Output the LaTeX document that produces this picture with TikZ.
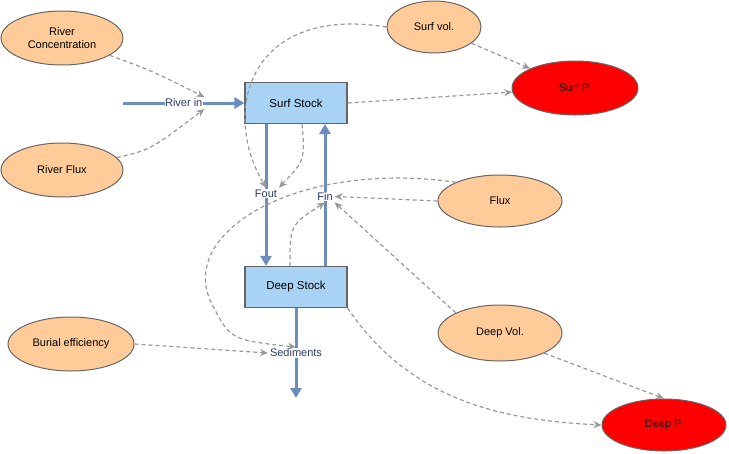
\documentclass[tikz,border=0pt]{standalone}
\usepackage{fontspec}
\setmainfont{Liberation Sans}
\usetikzlibrary{shapes.geometric,arrows.meta}
\definecolor{ell}{HTML}{FFCC99}
\definecolor{box}{HTML}{A9D3F5}
\definecolor{flow}{HTML}{6C8EBF}
\definecolor{txt}{HTML}{2A3A6A}
\begin{document}
\begin{tikzpicture}[x=1pt,y=-1pt,
  var/.style={ellipse,draw=black!60,line width=1pt,fill=ell,inner sep=0pt,font=\fontsize{11}{13}\selectfont,align=center},
  red/.style={var,fill=red},
  stock/.style={rectangle,draw=black!60,line width=1.1pt,fill=box,minimum width=102pt,minimum height=41pt,font=\fontsize{11.5}{13}\selectfont},
  flw/.style={draw=flow,line width=3pt,-{Triangle[length=10pt,width=11pt]}},
  lbl/.style={font=\fontsize{11}{13}\selectfont,text=txt,fill=white,inner sep=0.5pt},
  dep/.style={draw=gray!80,line width=1.2pt,dash pattern=on 4pt off 3pt,-{Stealth[length=8pt,width=7pt]}}]
\useasboundingbox (0,0) rectangle (729,453);
\node[var,minimum width=122pt,minimum height=54pt] (rc) at (62,38) {River\\Concentration};
\node[var,minimum width=122pt,minimum height=54pt] (rf) at (62,170) {River Flux};
\node[var,minimum width=94pt,minimum height=52pt] (sv) at (434,27) {Surf vol.};
\node[red,minimum width=126pt,minimum height=54pt] (sp) at (575,88) {Surf P.};
\node[var,minimum width=124pt,minimum height=52pt] (fx) at (500,201) {Flux};
\node[var,minimum width=124pt,minimum height=56pt] (dv) at (500,333) {Deep Vol.};
\node[red,minimum width=124pt,minimum height=52pt] (dp) at (664,425) {Deep P.};
\node[var,minimum width=126pt,minimum height=54pt] (be) at (71,344) {Burial efficiency};
\node[stock] (ss) at (296,103) {Surf Stock};
\node[stock] (ds) at (296,287) {Deep Stock};
\coordinate (rin0) at (123,103);
\coordinate (sedend) at (296,398);
% flows
\draw[flw] (rin0) -- (ss.west) node[lbl,pos=0.5] (rin) {River in};
\draw[flw] (ss.south -| 266,0) -- (ds.north -| 266,0) node[lbl,pos=0.49] (fout) {Fout};
\draw[flw] (ds.north -| 325,0) -- (ss.south -| 325,0) node[lbl,pos=0.49] (fin) {Fin};
\draw[flw] (ds.south) -- (sedend) node[lbl,pos=0.5] (sed) {Sediments};
% dependencies
\draw[dep] (rc) .. controls (150,70) .. (rin.north east);
\draw[dep] (rf) .. controls (150,150) .. (rin.south east);
\draw[dep] (sv) -- (sp);
\draw[dep] (ss.east) -- (sp);
\draw[dep] (sv.west) .. controls (250,5) and (220,110) .. (fout.north);
\draw[dep] (ss.south -| 302,0) .. controls (305,160) .. (fout.north east);
\draw[dep] (fx.west) -- (fin.east);
\draw[dep] (fx.north west) .. controls (300,160) and (180,230) .. (210,300) .. controls (230,340) .. (sed.north);
\draw[dep] (ds.north -| 290,0) .. controls (290,225) .. (fin.south);
\draw[dep] (dv.north west) -- (fin.south east);
\draw[dep] (ds.south east) .. controls (410,400) and (500,420) .. (dp.west);
\draw[dep] (dv.south east) -- (dp.north);
\draw[dep] (be.east) -- (sed.west);
\end{tikzpicture}
\end{document}
